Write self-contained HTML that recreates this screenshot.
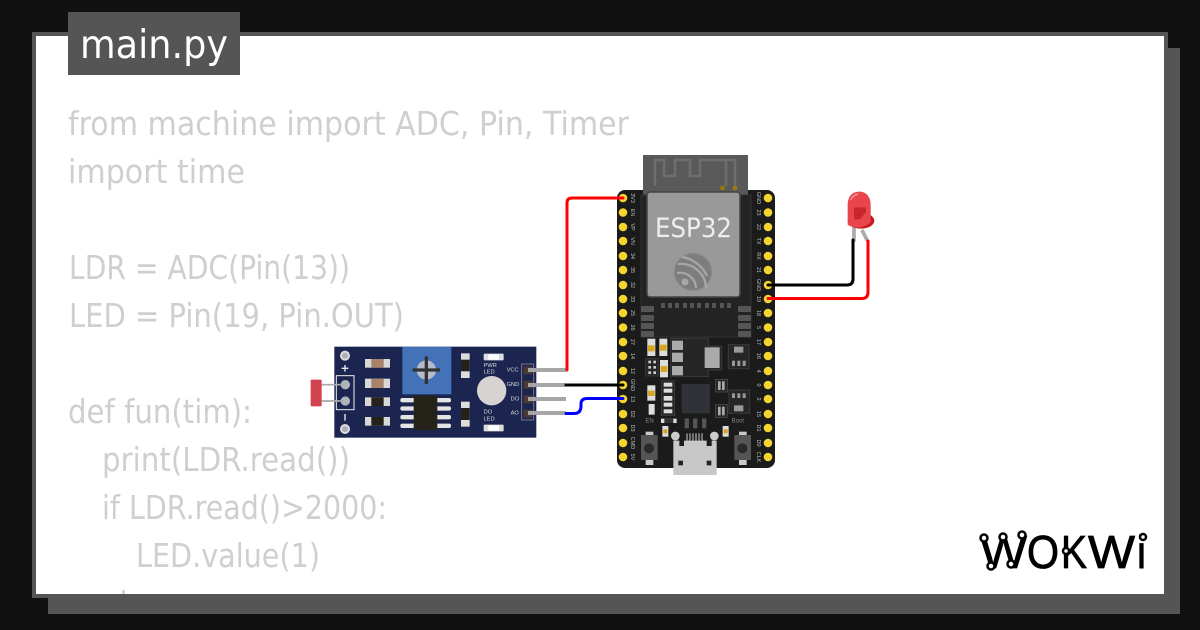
<!DOCTYPE html>
<html><head><meta charset="utf-8"><style>html,body{margin:0;padding:0;background:#111}svg{display:block}</style></head>
<body>
<svg xmlns="http://www.w3.org/2000/svg" width="1200" height="630" viewBox="0 0 1200 630">
<defs><clipPath id="p"><rect x="36" y="36" width="1128" height="558"/></clipPath></defs>
<rect width="1200" height="630" fill="#111"/>
<rect x="48" y="48" width="1132" height="566" fill="#555"/>
<rect x="32" y="32" width="1136" height="566" fill="#555"/>
<rect x="36" y="36" width="1128" height="558" fill="#fff"/>
<rect x="68" y="12" width="172" height="63" fill="#555"/>
<text x="80" y="58" font-family="DejaVu Sans,sans-serif" font-size="39" fill="#fff" textLength="148" lengthAdjust="spacingAndGlyphs">main.py</text>

<g clip-path="url(#p)" font-family="DejaVu Sans,sans-serif" font-size="33" fill="#cfcfcf">
<text x="68" y="135" textLength="561" lengthAdjust="spacingAndGlyphs">from machine import ADC, Pin, Timer</text>
<text x="68" y="183" textLength="177" lengthAdjust="spacingAndGlyphs">import time</text>
<text x="69" y="279" textLength="281" lengthAdjust="spacingAndGlyphs">LDR = ADC(Pin(13))</text>
<text x="69" y="327" textLength="335" lengthAdjust="spacingAndGlyphs">LED = Pin(19, Pin.OUT)</text>
<text x="68" y="423" textLength="184" lengthAdjust="spacingAndGlyphs">def fun(tim):</text>
<text x="102" y="471" textLength="248" lengthAdjust="spacingAndGlyphs">print(LDR.read())</text>
<text x="102" y="519" textLength="285" lengthAdjust="spacingAndGlyphs">if LDR.read()&gt;2000:</text>
<text x="136" y="567" textLength="184" lengthAdjust="spacingAndGlyphs">LED.value(1)</text>
<text x="102" y="615" textLength="68" lengthAdjust="spacingAndGlyphs">else:</text>
</g>

<!-- Sensor -->
<g transform="translate(300 340) scale(.33333)">
<rect x="103" y="20" width="606" height="273" fill="#1b2550"/>
<circle cx="135" cy="47" r="15" fill="#ddd"/><circle cx="135" cy="47" r="9" fill="#1b2550" opacity=".25"/>
<circle cx="135" cy="267" r="15" fill="#ddd"/><circle cx="135" cy="267" r="9" fill="#1b2550" opacity=".25"/>
<path d="M125 85h20M135 75v20M135 222v20" stroke="#eee" stroke-width="4"/>
<rect x="109" y="107" width="53" height="102" fill="none" stroke="#eee" stroke-width="3"/>
<circle cx="136" cy="134" r="14" fill="#aeb6bd"/><circle cx="136" cy="183" r="14" fill="#aeb6bd"/>
<path d="M60 134H130M60 183H130" stroke="#aaa" stroke-width="5"/>
<rect x="32" y="119" width="33" height="80" rx="3" fill="#d2424e"/>
<g fill="#d8d8d8"><rect x="195" y="57" width="75" height="26"/><rect x="195" y="116" width="75" height="28"/><rect x="195" y="172" width="75" height="26"/><rect x="195" y="231" width="75" height="26"/></g>
<rect x="214" y="57" width="37" height="26" fill="#a9826b"/><rect x="214" y="116" width="37" height="28" fill="#a9826b"/>
<rect x="214" y="172" width="37" height="26" fill="#25221a"/><rect x="214" y="231" width="37" height="26" fill="#25221a"/>
<rect x="307" y="20" width="147" height="143" fill="#4472b8"/>
<circle cx="379" cy="90" r="29" fill="#b4bccb"/>
<path d="M338 90H420M379 49V132" stroke="#333" stroke-width="10"/>
<g fill="#ddd"><rect x="483" y="40" width="26" height="74"/><rect x="483" y="185" width="26" height="75"/>
<rect x="551" y="41" width="60" height="20" rx="3"/><rect x="551" y="254" width="60" height="20" rx="3"/></g>
<rect x="483" y="59" width="26" height="35" fill="#25221a"/><rect x="483" y="204" width="26" height="36" fill="#25221a"/>
<rect x="565" y="43" width="32" height="16" fill="#fff"/><rect x="565" y="256" width="32" height="16" fill="#fff"/>
<g fill="#e4e4e4"><rect x="301" y="174" width="152" height="13" rx="6"/><rect x="301" y="199" width="152" height="13" rx="6"/><rect x="301" y="225" width="152" height="13" rx="6"/><rect x="301" y="251" width="152" height="13" rx="6"/></g>
<rect x="341" y="167" width="71" height="103" fill="#25221a"/>
<circle cx="575" cy="152" r="44" fill="#d8d3d3"/>
<g font-family="Liberation Sans,sans-serif" font-size="17" fill="#ddd">
<text x="551" y="81">PWR</text><text x="551" y="101">LED</text><text x="551" y="221">DO</text><text x="551" y="242">LED</text>
<text x="620" y="95">VCC</text><text x="620" y="138">GND</text><text x="632" y="182">DO</text><text x="632" y="224">AO</text></g>
<rect x="665" y="72" width="36" height="168" fill="none" stroke="#778" stroke-width="3"/>
<g fill="#4a3a32"><rect x="671" y="79" width="26" height="24"/><rect x="671" y="122" width="26" height="24"/><rect x="671" y="166" width="26" height="24"/><rect x="671" y="209" width="26" height="24"/></g>
</g>
<g stroke="#a6a6a6" stroke-width="4"><path d="M528 370H566M528 385H566M528 399H566M528 413H566"/></g>

<!-- ESP32 board -->
<rect x="617" y="190" width="158" height="278" rx="8" fill="#1b1b1b"/>
<rect x="643" y="155" width="105" height="45" fill="#595959"/>
<path d="M655 186V160H664V176H675V160H690V176H700V160H735V186M726 160V186" fill="none" stroke="#6e6e6e" stroke-width="2.500"/>
<circle cx="722.500" cy="188" r="2.400" fill="#9a7a10"/><circle cx="735" cy="188" r="2.400" fill="#9a7a10"/>
<rect x="641" y="195" width="110" height="142" fill="#232323" stroke="#333"/>
<rect x="647" y="192" width="93" height="105" rx="3" fill="#999" stroke="#444" stroke-width="1.500"/>
<text x="655" y="237" font-family="DejaVu Sans,sans-serif" font-size="27" fill="#eee" textLength="77" lengthAdjust="spacingAndGlyphs">ESP32</text>
<circle cx="693" cy="272" r="18.500" fill="#7d7d7d" stroke="#888" stroke-width="1"/>
<path d="M678 264a25 25 0 0 1 28 24M682 257a33 33 0 0 1 25 19M677 273a16 16 0 0 1 19 15" fill="none" stroke="#a8a8a8" stroke-width="2.200"/>
<circle cx="685" cy="282" r="3.500" fill="#a8a8a8"/>
<g fill="#555"><rect x="641" y="306" width="13" height="6" rx="1"/><rect x="641" y="315" width="13" height="6" rx="1"/><rect x="641" y="323" width="13" height="6" rx="1"/><rect x="641" y="331" width="13" height="6" rx="1"/>
<rect x="738" y="306" width="13" height="6" rx="1"/><rect x="738" y="315" width="13" height="6" rx="1"/><rect x="738" y="323" width="13" height="6" rx="1"/><rect x="738" y="331" width="13" height="6" rx="1"/>
<rect x="661" y="303" width="4" height="5"/><rect x="668" y="303" width="4" height="5"/><rect x="675" y="303" width="4" height="5"/><rect x="683" y="303" width="4" height="5"/><rect x="690" y="303" width="4" height="5"/><rect x="697" y="303" width="4" height="5"/><rect x="705" y="303" width="4" height="5"/><rect x="712" y="303" width="4" height="5"/><rect x="720" y="303" width="4" height="5"/><rect x="727" y="303" width="4" height="5"/></g>

<!-- pins -->
<g fill="#f4d430">
<circle cx="623" cy="198" r="4.300"/><circle cx="623" cy="212.500" r="4.300"/><circle cx="623" cy="227" r="4.300"/><circle cx="623" cy="241" r="4.300"/><circle cx="623" cy="256" r="4.300"/><circle cx="623" cy="270" r="4.300"/><circle cx="623" cy="285" r="4.300"/><circle cx="623" cy="299" r="4.300"/><circle cx="623" cy="313" r="4.300"/><circle cx="623" cy="327.500" r="4.300"/><circle cx="623" cy="342" r="4.300"/><circle cx="623" cy="356" r="4.300"/><circle cx="623" cy="371" r="4.300"/><circle cx="623" cy="385" r="4.300"/><circle cx="623" cy="399" r="4.300"/><circle cx="623" cy="414" r="4.300"/><circle cx="623" cy="428" r="4.300"/><circle cx="623" cy="443" r="4.300"/><circle cx="623" cy="457" r="4.300"/>
<circle cx="768" cy="198" r="4.300"/><circle cx="768" cy="212.500" r="4.300"/><circle cx="768" cy="227" r="4.300"/><circle cx="768" cy="241" r="4.300"/><circle cx="768" cy="256" r="4.300"/><circle cx="768" cy="270" r="4.300"/><circle cx="768" cy="285" r="4.300"/><circle cx="768" cy="299" r="4.300"/><circle cx="768" cy="313" r="4.300"/><circle cx="768" cy="327.500" r="4.300"/><circle cx="768" cy="342" r="4.300"/><circle cx="768" cy="356" r="4.300"/><circle cx="768" cy="371" r="4.300"/><circle cx="768" cy="385" r="4.300"/><circle cx="768" cy="399" r="4.300"/><circle cx="768" cy="414" r="4.300"/><circle cx="768" cy="428" r="4.300"/><circle cx="768" cy="443" r="4.300"/><circle cx="768" cy="457" r="4.300"/>
</g>
<g font-family="Liberation Sans,sans-serif" font-size="5.500" fill="#bbb" text-anchor="middle">
<text transform="translate(631 198) rotate(90)">3V3</text><text transform="translate(631 212.500) rotate(90)">EN</text><text transform="translate(631 227) rotate(90)">VP</text><text transform="translate(631 241) rotate(90)">VN</text><text transform="translate(631 256) rotate(90)">34</text><text transform="translate(631 270) rotate(90)">35</text><text transform="translate(631 285) rotate(90)">32</text><text transform="translate(631 299) rotate(90)">33</text><text transform="translate(631 313) rotate(90)">25</text><text transform="translate(631 327.500) rotate(90)">26</text><text transform="translate(631 342) rotate(90)">27</text><text transform="translate(631 356) rotate(90)">14</text><text transform="translate(631 371) rotate(90)">12</text><text transform="translate(631 385) rotate(90)">GND</text><text transform="translate(631 399) rotate(90)">13</text><text transform="translate(631 414) rotate(90)">D2</text><text transform="translate(631 428) rotate(90)">D3</text><text transform="translate(631 443) rotate(90)">CMD</text><text transform="translate(631 457) rotate(90)">5V</text>
<text transform="translate(757 198) rotate(90)">GND</text><text transform="translate(757 212.500) rotate(90)">23</text><text transform="translate(757 227) rotate(90)">22</text><text transform="translate(757 241) rotate(90)">TX</text><text transform="translate(757 256) rotate(90)">RX</text><text transform="translate(757 270) rotate(90)">21</text><text transform="translate(757 285) rotate(90)">GND</text><text transform="translate(757 299) rotate(90)">19</text><text transform="translate(757 313) rotate(90)">18</text><text transform="translate(757 327.500) rotate(90)">5</text><text transform="translate(757 342) rotate(90)">17</text><text transform="translate(757 356) rotate(90)">16</text><text transform="translate(757 371) rotate(90)">4</text><text transform="translate(757 385) rotate(90)">0</text><text transform="translate(757 399) rotate(90)">2</text><text transform="translate(757 414) rotate(90)">15</text><text transform="translate(757 428) rotate(90)">D1</text><text transform="translate(757 443) rotate(90)">D0</text><text transform="translate(757 457) rotate(90)">CLK</text>
</g>

<!-- lower board parts -->
<g transform="translate(610 310) scale(.33333)">
<g fill="#ddd"><rect x="112" y="86" width="24" height="52"/><rect x="148" y="86" width="24" height="52"/><rect x="150" y="150" width="24" height="52"/><rect x="112" y="226" width="24" height="46"/><rect x="116" y="282" width="18" height="32"/><rect x="157" y="348" width="18" height="32"/><rect x="338" y="348" width="18" height="32"/></g>
<g fill="#d9a520"><rect x="114" y="106" width="20" height="18"/><rect x="150" y="104" width="20" height="18"/><rect x="152" y="168" width="20" height="18"/><rect x="114" y="242" width="20" height="16"/><rect x="160" y="358" width="12" height="12"/><rect x="341" y="358" width="12" height="12"/></g>
<path d="M182 85H295V108H335V180H295V200H182Z" fill="#262626" stroke="#3a3a3a" stroke-width="3"/>
<g fill="#aaa"><rect x="186" y="92" width="33" height="28"/><rect x="186" y="128" width="33" height="28"/><rect x="186" y="168" width="33" height="28"/><rect x="284" y="112" width="45" height="62"/></g>
<rect x="355" y="104" width="62" height="72" fill="#262626" stroke="#3a3a3a" stroke-width="3"/>
<g fill="#999"><rect x="372" y="110" width="28" height="18"/><rect x="366" y="152" width="9" height="16"/><rect x="382" y="152" width="9" height="16"/><rect x="398" y="152" width="9" height="16"/></g>
<rect x="107" y="146" width="38" height="52" fill="#262626" stroke="#444" stroke-width="2"/>
<g fill="#ccc"><rect x="115" y="152" width="8" height="8"/><rect x="130" y="152" width="8" height="8"/><rect x="115" y="168" width="8" height="8"/><rect x="130" y="168" width="8" height="8"/><rect x="115" y="184" width="8" height="8"/><rect x="130" y="184" width="8" height="8"/></g>
<rect x="154" y="212" width="40" height="105" fill="#262626" stroke="#444" stroke-width="2"/>
<g fill="#ddd"><rect x="161" y="218" width="26" height="12"/><rect x="161" y="236" width="26" height="12"/><rect x="161" y="258" width="26" height="14"/><rect x="161" y="278" width="26" height="12"/><rect x="161" y="298" width="26" height="12"/></g>
<rect x="215" y="222" width="85" height="88" rx="4" fill="#2f3338"/>
<rect x="316" y="208" width="36" height="38" fill="#262626" stroke="#555" stroke-width="2"/>
<rect x="316" y="284" width="36" height="38" fill="#262626" stroke="#555" stroke-width="2"/>
<g fill="#aaa"><rect x="324" y="214" width="8" height="26"/><rect x="336" y="214" width="8" height="26"/><rect x="324" y="290" width="8" height="26"/><rect x="336" y="290" width="8" height="26"/></g>
<rect x="357" y="240" width="62" height="70" fill="#262626" stroke="#3a3a3a" stroke-width="3"/>
<g fill="#999"><rect x="366" y="250" width="9" height="14"/><rect x="382" y="250" width="9" height="14"/><rect x="398" y="250" width="9" height="14"/><rect x="372" y="286" width="28" height="18"/></g>
<rect x="153" y="326" width="47" height="13" fill="#ddd"/><rect x="163" y="326" width="27" height="13" fill="#333"/>
<g fill="#555"><rect x="224" y="325" width="13" height="30" rx="3"/><rect x="249" y="325" width="13" height="30" rx="3"/><rect x="276" y="325" width="13" height="30" rx="3"/></g>
<g font-family="Liberation Sans,sans-serif" font-size="18" fill="#888"><text x="106" y="338">EN</text><text x="365" y="338">Boot</text></g>
<g fill="#c9c9c9"><rect x="107" y="365" width="23" height="100"/><rect x="387" y="365" width="23" height="100"/></g>
<rect x="93" y="375" width="50" height="75" fill="#555"/><rect x="373" y="375" width="50" height="75" fill="#555"/>
<circle cx="117" cy="415" r="15" fill="#2a2a2a"/><circle cx="397" cy="415" r="15" fill="#2a2a2a"/>
<circle cx="196" cy="378" r="13" fill="#ccc"/><circle cx="313" cy="378" r="13" fill="#ccc"/>
<path d="M231 370v32M240 370v32M249 370v32M258 370v32M267 370v32M276 370v32" stroke="#ccc" stroke-width="3"/>
<path d="M190 392H208V408H222V392H290V408H305V392H320V495H190Z" fill="#c8c8c8"/>
<rect x="205" y="452" width="14" height="14" fill="#222"/><rect x="290" y="452" width="14" height="14" fill="#222"/>
</g>

<!-- LED -->
<g transform="translate(830 180) scale(.33333)">
<path d="M72 140V185M96 150L112 182" stroke="#aaa" stroke-width="11" fill="none"/>
<ellipse cx="93" cy="122" rx="40" ry="24" fill="#c41a20"/>
<path d="M53 75C53 48 68 35 88 35C108 35 122 50 122 75V126C105 146 68 146 53 134Z" fill="#e8464b"/>
<path d="M72 82H108V96L90 118H72Z" fill="#c8282d"/>
<path d="M62 60C66 50 74 44 84 42" fill="none" stroke="#f08a8c" stroke-width="5"/>
</g>

<!-- Wires -->
<g fill="none" stroke-width="3" stroke-linecap="round">
<path d="M623 198H572Q567 198 567 203V370" stroke="#f00"/>
<path d="M566 385H623" stroke="#000"/>
<path d="M566 413.500H574Q581 413.500 581 406V404Q581 398.500 587 398.500H623" stroke="#00f"/>
<path d="M768 285H847Q853 285 853 279V240" stroke="#000"/>
<path d="M768 298.500H862Q868 298.500 868 292V241" stroke="#f00"/>
</g>

<!-- Logo -->
<g font-family="Liberation Sans,sans-serif" font-size="46" fill="#000" stroke="#000" stroke-width=".8">
<text x="980" y="568" textLength="47" lengthAdjust="spacingAndGlyphs">W</text>
<text x="1027" y="568" textLength="32" lengthAdjust="spacingAndGlyphs">O</text>
<text x="1061" y="568" textLength="26" lengthAdjust="spacingAndGlyphs">K</text>
<text x="1088" y="568" textLength="47" lengthAdjust="spacingAndGlyphs">W</text>
<text x="1137" y="568" textLength="9" lengthAdjust="spacingAndGlyphs">i</text>
</g>
<g fill="#fff" stroke="#000" stroke-width="2.500"><circle cx="984" cy="538" r="3.500"/><circle cx="1003" cy="537" r="3.500"/><circle cx="1022" cy="535" r="3.500"/><circle cx="991" cy="566" r="3.500"/><circle cx="1011" cy="564" r="3.500"/><circle cx="1066" cy="551" r="3"/><circle cx="1143" cy="537" r="3"/></g>
</svg>
</body></html>
